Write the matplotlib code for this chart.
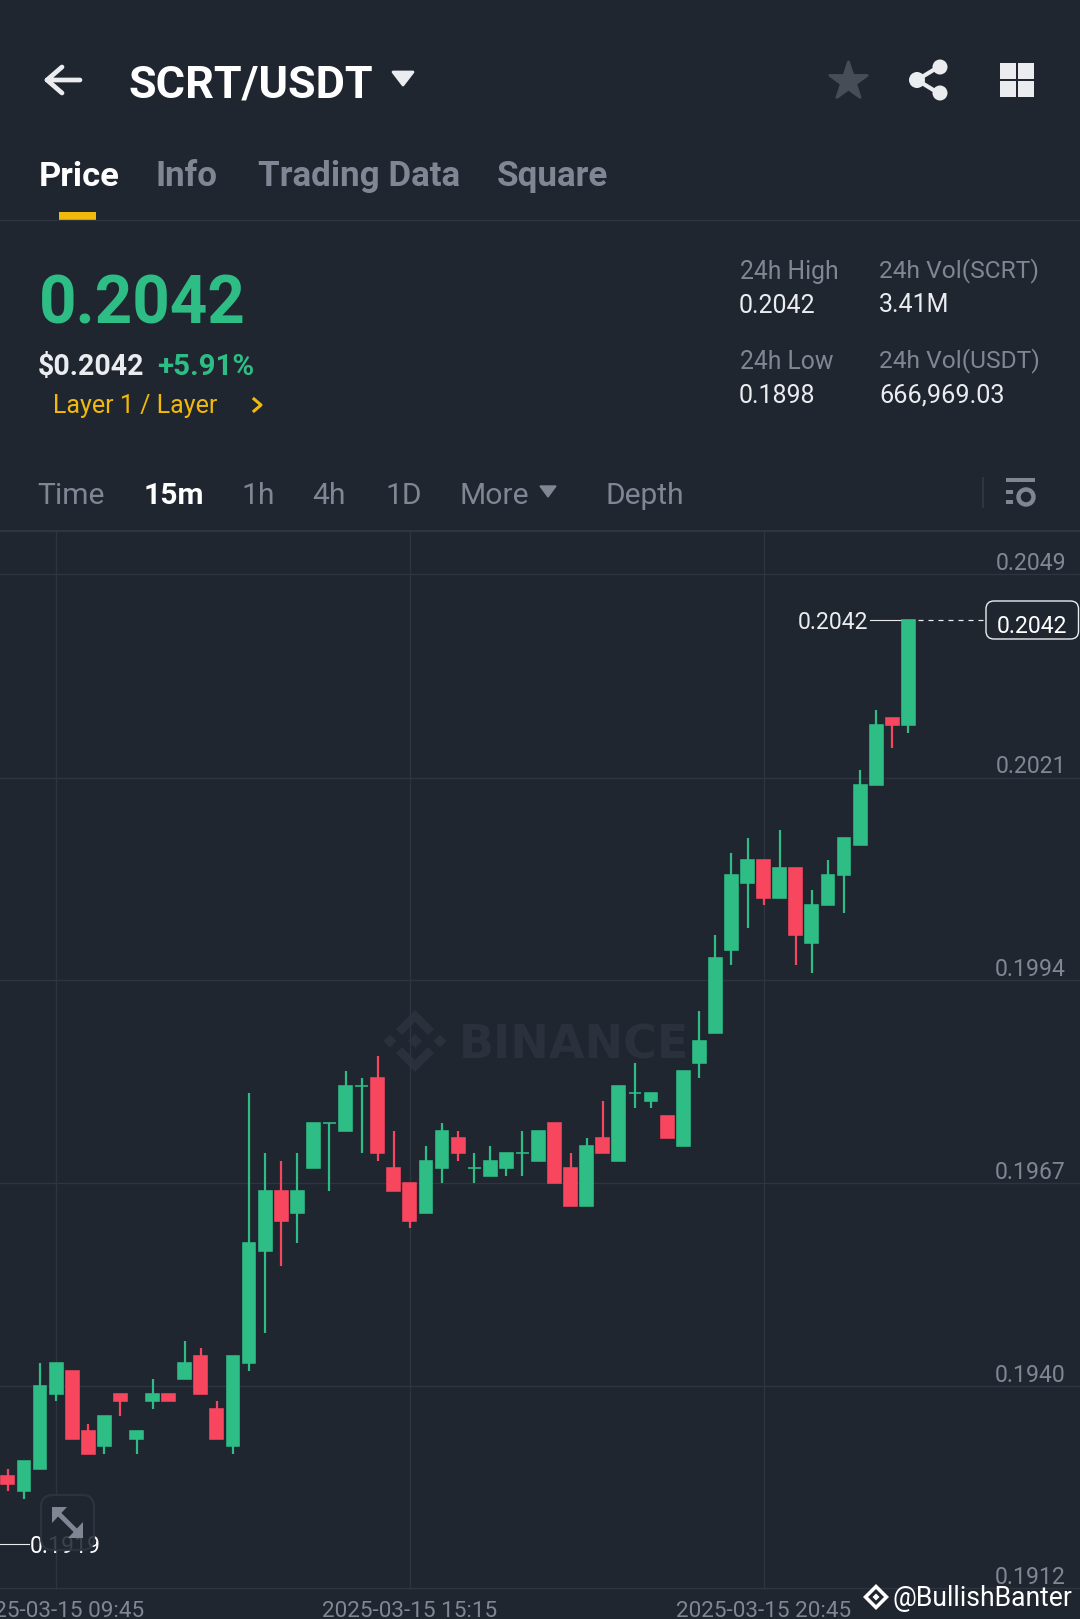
import numpy as np
import matplotlib
matplotlib.use("Agg")
import matplotlib.pyplot as plt
from matplotlib.patches import FancyBboxPatch, Polygon, Circle, Rectangle

BG = "#1f2630"
GRID = "#2f3540"
GREEN = "#2ebd85"
RED = "#f9465f"
GREY = "#7f8794"
LIGHT = "#eaecef"
YELLOW = "#f0b90b"

plt.rcParams["font.family"] = ["Roboto", "DejaVu Sans"]

# candle values, first candle is three bars before the 09:45 tick
first_index = -3
opens = [.1928, .1926, .1929, .1939, .1942, .1934, .1932, .1939, .1933, .1938, .1939, .1941, .1944, .1937, .1932,
         .1943, .1958, .1966, .1963, .1969, .1975, .1974, .1980, .1981, .1969, .1967, .1963, .1969, .1973, .1969,
         .1968, .1969, .1971, .1970, .1975, .1969, .1964, .1973, .1970, .1979, .1978, .1976, .1972, .1983, .1987,
         .1998, .2007, .2010, .2005, .2009, .1999, .2004, .2008, .2012, .2020, .2029, .2028]
closes = [.1927, .1930, .1940, .1943, .1933, .1931, .1936, .1938, .1934, .1939, .1938, .1943, .1939, .1933, .1944,
          .1959, .1966, .1962, .1966, .1975, .1975, .1980, .1980, .1971, .1966, .1962, .1970, .1974, .1971, .1969,
          .1970, .1971, .1971, .1974, .1967, .1964, .1972, .1971, .1980, .1979, .1979, .1973, .1982, .1986, .1997,
          .2008, .2010, .2005, .2009, .2000, .2004, .2008, .2013, .2020, .2028, .2028, .2042]
highs = [.1929, .1930, .1943, .1943, .1942, .1935, .1936, .1939, .1934, .1941, .1939, .1946, .1945, .1938, .1944,
         .1979, .1971, .1970, .1971, .1975, .1975, .1982, .1981, .1984, .1974, .1967, .1972, .1975, .1974, .1971,
         .1972, .1971, .1974, .1974, .1975, .1971, .1973, .1978, .1980, .1983, .1979, .1976, .1982, .1990, .2000,
         .2011, .2013, .2010, .2014, .2009, .2006, .2010, .2013, .2022, .2030, .2029, .2042]
lows = [.1926, .1925, .1929, .1938, .1933, .1931, .1931, .1936, .1931, .1937, .1938, .1941, .1939, .1933, .1931,
        .1942, .1947, .1956, .1959, .1969, .1966, .1974, .1971, .1970, .1966, .1961, .1963, .1967, .1970, .1967,
        .1968, .1968, .1968, .1970, .1967, .1964, .1964, .1971, .1970, .1977, .1977, .1973, .1972, .1981, .1987,
        .1996, .2001, .2004, .2005, .1996, .1995, .2004, .2003, .2012, .2020, .2025, .2027]

grid_prices = [.20481, .2021, .1994, .1967, .1940, .19131]
grid_labels = ["0.2049", "0.2021", "0.1994", "0.1967", "0.1940", "0.1912"]
time_ticks = [0, 22, 44]
time_labels = ["2025-03-15 09:45", "2025-03-15 15:15", "2025-03-15 20:45"]
last_price = .2042
low_price = .1919

W, H = 1080, 1619
fig = plt.figure(figsize=(W / 100, H / 100), dpi=100, facecolor=BG)


def fs(px):
    return px * 0.72


# chart area
top_px, bottom_px = 532, 1590
ax = fig.add_axes([0, (H - bottom_px) / H, 1, (bottom_px - top_px) / H], facecolor=BG)
step = 16.08
tick_px = 7.51
ax.set_xlim(-56.1 / step, (W - 56.1) / step)
ax.set_ylim(last_price - (bottom_px - 620) / tick_px * 1e-4, last_price + (620 - top_px) / tick_px * 1e-4)
for s in ax.spines.values():
    s.set_visible(False)
ax.set_yticks(grid_prices)
ax.set_yticklabels([])
ax.set_xticks(time_ticks, labels=time_labels)
ax.tick_params(axis="both", length=0)
ax.tick_params(axis="x", labelsize=fs(22.5), labelcolor=GREY, pad=8)
ax.grid(True, color=GRID, lw=1.0)
ax.set_axisbelow(True)

x = np.arange(len(opens)) + first_index
o = np.array(opens)
c = np.array(closes)
colors = [GREEN if b >= a else RED for a, b in zip(opens, closes)]
ax.vlines(x, lows, highs, colors=colors, lw=fs(2.2), zorder=3)
ax.bar(x, np.abs(c - o), bottom=np.minimum(o, c), width=0.8, color=colors, edgecolor=colors, lw=fs(1.6), zorder=4)

for price, text in zip(grid_prices, grid_labels):
    ax.annotate(text, (1, price), xycoords=("axes fraction", "data"), xytext=(fs(-14), fs(13.5)), textcoords="offset points",
                ha="right", va="center_baseline", color=GREY, fontsize=fs(23), annotation_clip=False)

# high / low markers
last_x = x[-1]
ax.plot([last_x - 2.4, last_x], [last_price, last_price], color=LIGHT, lw=0.8, zorder=2)
ax.plot([last_x, 62.7], [last_price, last_price], color=LIGHT, lw=0.9, ls=(0, (4, 4)), zorder=2)
ax.annotate("0.2042", (last_x - 2.5, last_price), ha="right", va="center_baseline", color=LIGHT, fontsize=fs(23), zorder=5)
ax.plot([-3.49, -1.7], [low_price, low_price], color=LIGHT, lw=0.8, zorder=2)
ax.annotate("0.1919", (-1.65, low_price), ha="left", va="center_baseline", color="white", fontsize=fs(23), zorder=5)

# pixel overlay for the app ui
ui = fig.add_axes([0, 0, 1, 1], facecolor="none")
ui.set_xlim(0, W)
ui.set_ylim(H, 0)
ui.axis("off")


def label(px, py, s, size, color=GREY, weight="normal", **kw):
    ui.text(px, py, s, fontsize=fs(size), color=color, fontweight=weight, va="baseline", ha=kw.pop("ha", "left"), **kw)


def diamond(cx, cy, r, color):
    ui.add_patch(Polygon([(cx, cy - r), (cx + r, cy), (cx, cy + r), (cx - r, cy)], closed=True, fc=color, ec="none"))


# header
ui.plot([80, 47, 62], [80, 80, 67], color=LIGHT, lw=3.4, solid_capstyle="round", solid_joinstyle="round")
ui.plot([47, 62], [80, 93], color=LIGHT, lw=3.4, solid_capstyle="round")
label(128, 97, "SCRT/USDT", 45, "white", "bold")
ui.add_patch(Polygon([(393, 72), (413, 72), (403, 85)], closed=True, fc=LIGHT, ec=LIGHT, lw=2, joinstyle="round"))
ui.scatter([848], [81], s=800, marker="*", color="#474d57", edgecolors="#474d57", lw=2)
ui.plot([940, 917, 940], [66, 80, 94], color=LIGHT, lw=3)
for cx, cy, r in [(917, 80, 8), (940, 67, 7.5), (940, 93, 7.5)]:
    ui.add_patch(Circle((cx, cy), r, fc=LIGHT, ec="none"))
for gx, gy in [(1000, 63), (1018, 63), (1000, 81), (1018, 81)]:
    ui.add_patch(Rectangle((gx, gy), 16, 16, fc=LIGHT, ec="none"))

# tabs
label(39, 186, "Price", 34.5, "white", "bold")
label(155, 186, "Info", 35, GREY, "bold")
label(258, 186, "Trading Data", 35, GREY, "bold")
label(497, 186, "Square", 35, GREY, "bold")
ui.add_patch(Rectangle((59, 212), 37, 8, fc=YELLOW, ec="none"))
ui.plot([0, W], [220.5, 220.5], color=GRID, lw=1)

# price block
label(39, 323, "0.2042", 65.5, GREEN, "bold")
label(38, 375, "$0.2042", 28.5, LIGHT, "bold")
label(157, 375, "+5.91%", 29.5, GREEN, "bold")
label(53, 413, "Layer 1 / Layer", 25, YELLOW)
ui.plot([254, 261, 254], [399, 405, 411], color=YELLOW, lw=2.2)

label(740, 279, "24h High", 24.8)
label(739, 313, "0.2042", 25, LIGHT)
label(740, 369, "24h Low", 24.8)
label(739, 403, "0.1898", 25, LIGHT)
label(879, 277, "24h Vol(SCRT)", 24.5)
label(879, 312, "3.41M", 25, LIGHT)
label(879, 367, "24h Vol(USDT)", 24.5)
label(879, 402, "666,969.03", 25.3, LIGHT)

# interval row
label(37, 504, "Time", 30)
label(144, 504, "15m", 30, "white", "bold")
label(241, 504, "1h", 30)
label(312, 504, "4h", 30)
label(385, 504, "1D", 30)
label(460, 504, "More", 30)
ui.add_patch(Polygon([(540, 486), (556, 486), (548, 497)], closed=True, fc=GREY, ec=GREY, lw=1))
label(606, 504, "Depth", 30)
ui.plot([983, 983], [478, 507], color=GRID, lw=1.5)
ui.add_patch(Rectangle((1006, 478), 29, 4, fc=GREY, ec="none"))
ui.add_patch(Rectangle((1006, 490), 7, 4, fc=GREY, ec="none"))
ui.add_patch(Rectangle((1006, 500), 7, 4, fc=GREY, ec="none"))
ui.add_patch(Circle((1026, 497), 7.5, fc="none", ec=GREY, lw=3.2))
ui.plot([0, W], [531.5, 531.5], color=GRID, lw=1.5)

# current price box
box = FancyBboxPatch((986, 601), 92.5, 38, boxstyle="round,pad=0,rounding_size=8", fc=BG, ec=LIGHT, lw=1)
ui.add_patch(box)
ui.text(1032, 624, "0.2042", fontsize=fs(23), color="white", ha="center", va="center_baseline")

# expand button over the low label
ui.add_patch(FancyBboxPatch((41, 1495), 53, 55, boxstyle="round,pad=0,rounding_size=12", fc=BG, ec=GRID, lw=1.6,
                            alpha=0.88))
ui.add_patch(Polygon([(52, 1507), (67, 1507), (52, 1523)], closed=True, fc=GREY, ec="none"))
ui.add_patch(Polygon([(83, 1538), (68, 1538), (83, 1522)], closed=True, fc=GREY, ec="none"))
ui.plot([58, 77], [1513, 1532], color=GREY, lw=3.5)

# watermark, sits under the candles
wm = "#2b313c"
cx, cy = 415, 1041
ax_wm = fig.add_axes([0, 0, 1, 1], facecolor="none", zorder=-1)
ax.set_zorder(0)
ui.set_zorder(2)
ax.patch.set_alpha(0)
ax_wm.set_xlim(0, W)
ax_wm.set_ylim(H, 0)
ax_wm.axis("off")
for dx, dy, r in [(-25, 0, 6.5), (25, 0, 6.5), (0, 0, 7)]:
    ax_wm.add_patch(Polygon([(cx + dx, cy + dy - r), (cx + dx + r, cy + dy), (cx + dx, cy + dy + r), (cx + dx - r, cy + dy)], fc=wm, ec="none"))
for sgn in (-1, 1):
    ax_wm.add_patch(Polygon([(cx, cy + sgn * 31), (cx + 19, cy + sgn * 12), (cx + 13, cy + sgn * 6), (cx, cy + sgn * 19),
                             (cx - 13, cy + sgn * 6), (cx - 19, cy + sgn * 12)], fc=wm, ec="none"))
ax_wm.text(459, 1058, "BINANCE", fontsize=fs(46), color=wm, fontweight="bold", family="DejaVu Sans", va="baseline")

# source stamp
diamond(876, 1597, 13, "white")
diamond(876, 1597, 8, BG)
diamond(876, 1597, 3.5, "white")
label(893, 1606, "@BullishBanter", 26.5, "white")

fig.savefig("out.png", dpi=100, facecolor=BG)
